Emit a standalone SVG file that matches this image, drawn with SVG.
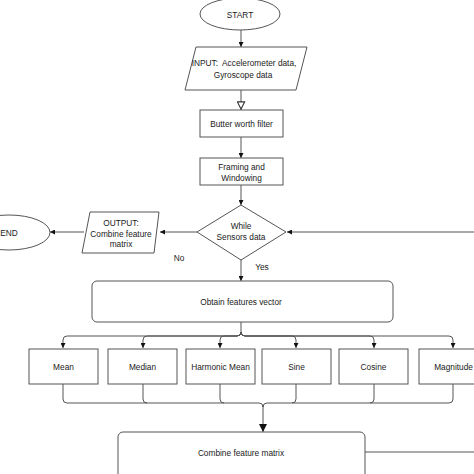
<svg xmlns="http://www.w3.org/2000/svg" width="474" height="474" viewBox="0 0 474 474">
<style>
.s{fill:#fff;stroke:#555;stroke-width:1}
.c{fill:none;stroke:#555;stroke-width:1}
.t{font-family:"Liberation Sans",Arial,sans-serif;font-size:8.3px;fill:#1a1a1a;text-anchor:middle;dominant-baseline:central;white-space:pre}
</style>
<defs>
<marker id="a" viewBox="0 0 10 10" refX="10" refY="5" markerWidth="5" markerHeight="5" orient="auto" markerUnits="userSpaceOnUse"><path d="M0,0 L10,5 L0,10 z" fill="#111"/></marker>
<marker id="o" viewBox="0 0 10 10" refX="10" refY="5" markerWidth="9" markerHeight="9" orient="auto" markerUnits="userSpaceOnUse"><path d="M1,1 L9,5 L1,9 z" fill="#fff" stroke="#333" stroke-width="1.2"/></marker>
<marker id="b" viewBox="0 0 10 10" refX="10" refY="5" markerWidth="8" markerHeight="8" orient="auto" markerUnits="userSpaceOnUse"><path d="M0,0 L10,5 L0,10 z" fill="#111"/></marker>
</defs>
<g id="connectors">
<path class="c" d="M241 30 V47" marker-end="url(#a)"/>
<path class="c" d="M241 90 V110" marker-end="url(#o)"/>
<path class="c" d="M241 137 V158" marker-end="url(#a)"/>
<path class="c" d="M241 185 V205" marker-end="url(#a)"/>
<path class="c" d="M474 232 H287" marker-end="url(#a)"/>
<path class="c" d="M197 232 H160" marker-end="url(#a)"/>
<path class="c" d="M84 232 H50" marker-end="url(#a)"/>
<path class="c" d="M241 260 V281" marker-end="url(#a)"/>
<path class="c" d="M241 322 V332 Q241 336 237 336 H67 Q63 336 63 340 V348" marker-end="url(#a)"/>
<path class="c" d="M241 332 Q241 336 237 336 H147 Q143 336 143 340 V348" marker-end="url(#a)"/>
<path class="c" d="M241 332 Q241 336 237 336 H224 Q220 336 220 340 V348" marker-end="url(#a)"/>
<path class="c" d="M241 332 Q241 336 245 336 H292 Q296 336 296 340 V348" marker-end="url(#a)"/>
<path class="c" d="M241 332 Q241 336 245 336 H370 Q374 336 374 340 V348" marker-end="url(#a)"/>
<path class="c" d="M241 332 Q241 336 245 336 H449 Q453 336 453 340 V348" marker-end="url(#a)"/>
<path class="c" d="M63 384 V399 Q63 403 67 403 H259 Q263 403 263 407"/>
<path class="c" d="M143 384 V399 Q143 403 147 403"/>
<path class="c" d="M220 384 V399 Q220 403 224 403"/>
<path class="c" d="M296 384 V399 Q296 403 292 403"/>
<path class="c" d="M374 384 V399 Q374 403 370 403"/>
<path class="c" d="M453 384 V399 Q453 403 449 403 H267 Q263 403 263 407"/>
<path class="c" d="M263 406 V432" stroke-width="2.2" marker-end="url(#b)"/>
<path class="c" d="M365 452 H474"/>
</g>
<g id="start"><ellipse class="s" cx="240" cy="14" rx="40" ry="16"/><text class="t" x="240" y="15">START</text></g>
<g id="input"><polygon class="s" points="196,47 307,47 296,90 185,90"/><text class="t" x="244" y="63" xml:space="preserve">INPUT:  Accelerometer data,</text><text class="t" x="243" y="75">Gyroscope data</text></g>
<g id="butter"><rect class="s" x="200" y="110" width="83" height="27"/><text class="t" x="241.5" y="124">Butter worth filter</text></g>
<g id="framing"><rect class="s" x="200" y="158" width="83" height="27"/><text class="t" x="241.5" y="166.5">Framing and</text><text class="t" x="241.5" y="177.5">Windowing</text></g>
<g id="while"><polygon class="s" points="241,205 286,232 241,260 197,232"/><text class="t" x="241" y="226">While</text><text class="t" x="241" y="237">Sensors data</text></g>
<g id="output"><polygon class="s" points="90,212 159,212 154,253 82,253"/><text class="t" x="121" y="222.5">OUTPUT:</text><text class="t" x="121" y="233.5">Combine feature</text><text class="t" x="121" y="244">matrix</text></g>
<g id="end"><ellipse class="s" cx="9" cy="232.5" rx="41" ry="17.5"/><text class="t" x="9" y="233">END</text></g>
<text class="t" x="179" y="258">No</text>
<text class="t" x="262" y="267">Yes</text>
<g id="obtain"><rect class="s" x="92" y="281" width="301" height="41" rx="5"/><text class="t" x="241" y="302">Obtain features vector</text></g>
<g id="mean"><rect class="s" x="29" y="349" width="69" height="35"/><text class="t" x="63.5" y="366.5">Mean</text></g>
<g id="median"><rect class="s" x="108" y="349" width="69" height="35"/><text class="t" x="142.5" y="366.5">Median</text></g>
<g id="harmonic"><rect class="s" x="186" y="349" width="69" height="35"/><text class="t" x="220.5" y="366.5">Harmonic Mean</text></g>
<g id="sine"><rect class="s" x="262" y="349" width="69" height="35"/><text class="t" x="296.5" y="366.5">Sine</text></g>
<g id="cosine"><rect class="s" x="339" y="349" width="69" height="35"/><text class="t" x="373.5" y="366.5">Cosine</text></g>
<g id="magnitude"><rect class="s" x="419" y="349" width="69" height="35"/><text class="t" x="453.5" y="366.5">Magnitude</text></g>
<g id="combine"><rect class="s" x="118" y="432" width="247" height="50" rx="5"/><text class="t" x="241" y="452.5">Combine feature matrix</text></g>
</svg>
